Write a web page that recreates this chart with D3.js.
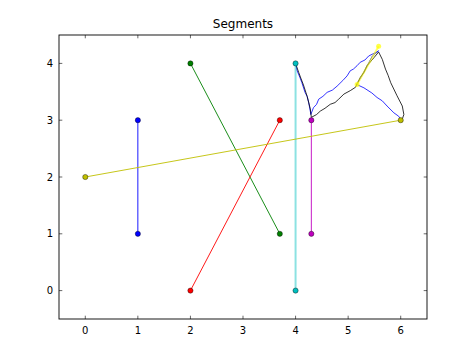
<!DOCTYPE html>
<html>
<head>
<meta charset="utf-8">
<script src="https://cdn.jsdelivr.net/npm/d3@7"></script>
<style>
  body { margin: 0; background: #fff; }
  svg { display: block; font-family: "DejaVu Sans", sans-serif; }
</style>
</head>
<body>
<div id="chart"></div>
<script>
// segment end points and colours
const segX0 = [1, 2, 2, 4, 4.3, 0];
const segY0 = [1, 4, 0, 0, 1, 2];
const segX1 = [1, 3.7, 3.7, 4, 4.3, 6];
const segY1 = [3, 1, 3, 4, 3, 3];
const segColors = ["#0000ff", "#008000", "#ff0000", "#00bfbf", "#bf00bf", "#bfbf00"];

// hand drawn trails in the upper right
const blueTrailX = [4.0, 4.03, 4.08, 4.12, 4.18, 4.22, 4.25, 4.28, 4.29, 4.34, 4.4, 4.44, 4.52, 4.6, 4.7, 4.79, 4.9, 4.98, 5.04, 5.1, 5.17, 5.23, 5.32, 5.39, 5.52, 5.58, 5.46, 5.33, 5.2, 5.16, 5.3, 5.45, 5.55, 5.65, 5.74, 5.87, 5.96, 6.0];
const blueTrailY = [4.0, 3.87, 3.76, 3.66, 3.49, 3.42, 3.31, 3.16, 3.1, 3.22, 3.28, 3.37, 3.42, 3.49, 3.53, 3.6, 3.7, 3.78, 3.87, 3.9, 3.96, 4.02, 4.06, 4.13, 4.19, 4.22, 4.13, 3.9, 3.69, 3.63, 3.57, 3.48, 3.4, 3.34, 3.25, 3.13, 3.07, 3.02];
const blackTrailX = [4.0, 4.06, 4.1, 4.15, 4.22, 4.28, 4.3, 4.4, 4.47, 4.56, 4.66, 4.75, 4.82, 4.92, 5.04, 5.14, 5.23, 5.3, 5.36, 5.49, 5.58, 5.65, 5.71, 5.76, 5.81, 5.93, 6.03, 6.06, 6.03];
const blackTrailY = [4.0, 3.84, 3.74, 3.62, 3.42, 3.2, 3.05, 3.1, 3.16, 3.21, 3.28, 3.31, 3.37, 3.46, 3.52, 3.58, 3.75, 3.84, 3.96, 4.1, 4.2, 4.07, 3.9, 3.79, 3.66, 3.43, 3.25, 3.1, 3.02];
const yellowTrailX = [5.17, 5.58];
const yellowTrailY = [3.63, 4.3];

const xTicks = [0, 1, 2, 3, 4, 5, 6];
const yTicks = [0, 1, 2, 3, 4];

const W = 474, H = 355;
const margin = {top: 35, right: 47, bottom: 36, left: 59};
const width = W - margin.left - margin.right;
const height = H - margin.top - margin.bottom;

const svg = d3.select("#chart").append("svg")
    .attr("width", W)
    .attr("height", H);

const g = svg.append("g")
    .attr("transform", "translate(" + margin.left + "," + margin.top + ")");

const x = d3.scaleLinear().domain([-0.5, 6.5]).range([0, width]);
const y = d3.scaleLinear().domain([-0.5, 4.5]).range([height, 0]);

// title
svg.append("text")
    .attr("x", margin.left + width / 2)
    .attr("y", 28)
    .attr("text-anchor", "middle")
    .style("font-size", "12px")
    .text("Segments");

const line = d3.line().x(d => x(d[0])).y(d => y(d[1]));

// trails
g.append("path")
    .datum(d3.zip(blueTrailX, blueTrailY))
    .attr("d", line)
    .attr("fill", "none")
    .attr("stroke", "#0000ff")
    .attr("stroke-width", 0.8);
g.append("path")
    .datum(d3.zip(blackTrailX, blackTrailY))
    .attr("d", line)
    .attr("fill", "none")
    .attr("stroke", "#000")
    .attr("stroke-width", 0.8);

// segments
const segs = segX0.map((d, i) => ({x0: d, y0: segY0[i], x1: segX1[i], y1: segY1[i], color: segColors[i]}));

g.selectAll(".seg").data(segs).enter().append("line")
    .attr("class", "seg")
    .attr("x1", d => x(d.x0)).attr("y1", d => y(d.y0))
    .attr("x2", d => x(d.x1)).attr("y2", d => y(d.y1))
    .attr("stroke", d => d.color)
    .attr("stroke-opacity", (d, i) => i == 3 ? 0.45 : 1)
    .attr("stroke-width", (d, i) => i == 3 ? 2 : 0.9);

// yellow trail
g.append("path")
    .datum(d3.zip(yellowTrailX, yellowTrailY))
    .attr("d", line)
    .attr("fill", "none")
    .attr("stroke", "#ffff00")
    .attr("stroke-opacity", 0.6)
    .attr("stroke-width", 2);
g.selectAll(".ydot").data(d3.zip(yellowTrailX, yellowTrailY)).enter().append("circle")
    .attr("cx", d => x(d[0])).attr("cy", d => y(d[1]))
    .attr("r", 2.5)
    .attr("fill", "#ffff00")
    .attr("fill-opacity", 0.7);

// markers
segs.forEach(s => {
  g.selectAll(null).data([[s.x0, s.y0], [s.x1, s.y1]]).enter().append("circle")
      .attr("cx", d => x(d[0])).attr("cy", d => y(d[1]))
      .attr("r", 2.6)
      .attr("fill", s.color)
      .attr("stroke", "#000")
      .attr("stroke-width", 0.4);
});

// frame
g.append("rect")
    .attr("width", width).attr("height", height)
    .attr("fill", "none")
    .attr("stroke", "#000")
    .attr("stroke-width", 0.9);

// ticks inward on all sides
const tl = 3.3;
xTicks.forEach(t => {
  g.append("line").attr("x1", x(t)).attr("x2", x(t)).attr("y1", height).attr("y2", height - tl).attr("stroke", "#000").attr("stroke-width", 0.6);
  g.append("line").attr("x1", x(t)).attr("x2", x(t)).attr("y1", 0).attr("y2", tl).attr("stroke", "#000").attr("stroke-width", 0.6);
  g.append("text").attr("x", x(t)).attr("y", height + 15)
      .attr("text-anchor", "middle").style("font-size", "10px").text(t);
});
yTicks.forEach(t => {
  g.append("line").attr("x1", 0).attr("x2", tl).attr("y1", y(t)).attr("y2", y(t)).attr("stroke", "#000").attr("stroke-width", 0.6);
  g.append("line").attr("x1", width).attr("x2", width - tl).attr("y1", y(t)).attr("y2", y(t)).attr("stroke", "#000").attr("stroke-width", 0.6);
  g.append("text").attr("x", -6).attr("y", y(t)).attr("dy", "0.35em")
      .attr("text-anchor", "end").style("font-size", "10px").text(t);
});
</script>
</body>
</html>
